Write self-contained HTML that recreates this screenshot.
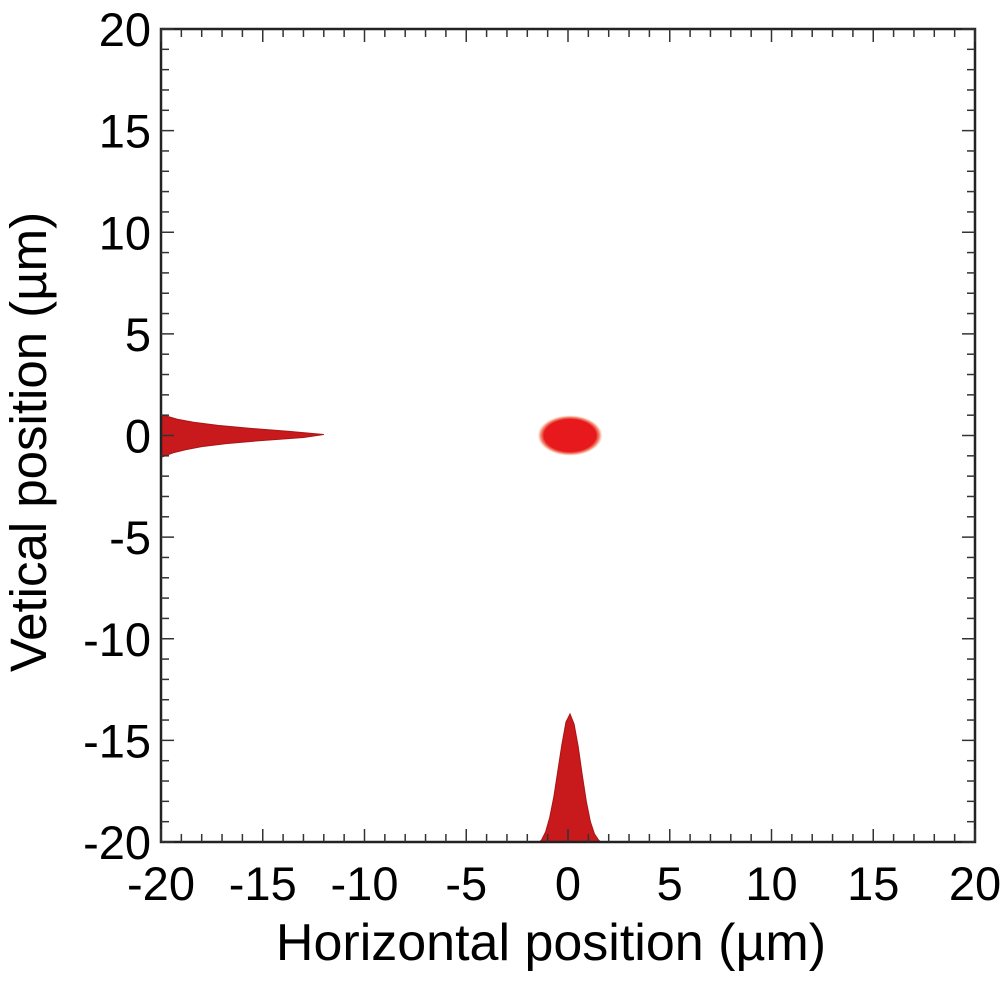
<!DOCTYPE html>
<html><head><meta charset="utf-8">
<style>
html,body{margin:0;padding:0;background:#fff;}
svg{display:block;font-family:"Liberation Sans",Arial,sans-serif;}
</style></head>
<body>
<svg id="chart" width="1000" height="982" viewBox="0 0 1000 982">
<defs>
<radialGradient id="spotGrad" cx="50%" cy="50%" r="50%">
<stop offset="0%" stop-color="#e8191c"/>
<stop offset="80%" stop-color="#e8191c"/>
<stop offset="90%" stop-color="#ec5a3a" stop-opacity="0.7"/>
<stop offset="100%" stop-color="#f0a070" stop-opacity="0"/>
</radialGradient>
</defs>
<g id="marks"></g>
<g id="axes"></g>
<text x="551" y="960" text-anchor="middle" font-size="52">Horizontal position (µm)</text>
<text transform="translate(46,442) rotate(-90)" text-anchor="middle" font-size="51">Vetical position (µm)</text>
</svg>
<script>
// data
const xTicks = [-20,-15,-10,-5,0,5,10,15,20];
const yTicks = [-20,-15,-10,-5,0,5,10,15,20];
const spotCenter = [0.1, 0.0];
const spotRadius = [1.6, 1.0];
// bottom histogram (horizontal profile): bin centers (µm) and height (µm above -20)
const hBins = [-1.3,-1.1,-0.9,-0.7,-0.5,-0.3,-0.1,0.1,0.3,0.5,0.7,0.9,1.1,1.3,1.5];
const hVals = [0.1,0.5,1.2,2.2,3.5,4.8,5.9,6.3,5.8,4.7,3.3,2.0,1.0,0.4,0.1];
// left histogram (vertical profile): bin centers (µm) and length (µm right of -20)
const vBins = [-1.0,-0.85,-0.7,-0.55,-0.4,-0.25,-0.1,0.05,0.2,0.35,0.5,0.65,0.8,0.95];
const vVals = [0.2,0.6,1.2,2.0,3.2,4.9,7.0,8.0,6.3,4.4,2.8,1.6,0.8,0.3];

const L=161,R=975,T=29,B=842;
const sx=v=>L+(v+20)/40*(R-L);
const sy=v=>B-(v+20)/40*(B-T);
const NS="http://www.w3.org/2000/svg";
const mk=(t,a,p)=>{const e=document.createElementNS(NS,t);for(const k in a)e.setAttribute(k,a[k]);p.appendChild(e);return e;};
const marks=document.getElementById('marks'), axes=document.getElementById('axes');

let d=`M${sx(hBins[0]-0.1)},${sy(-20)}`;
hBins.forEach((b,i)=>{d+=` L${sx(b)},${sy(-20+hVals[i])}`;});
d+=` L${sx(hBins[hBins.length-1]+0.1)},${sy(-20)} Z`;
const hh=mk('path',{d:d,fill:'#c8191c',stroke:'#a81616','stroke-width':1},marks);



let d2=`M${sx(-20)},${sy(vBins[0]-0.08)}`;
vBins.forEach((b,i)=>{d2+=` L${sx(-20+vVals[i])},${sy(b)}`;});
d2+=` L${sx(-20)},${sy(vBins[vBins.length-1]+0.08)} Z`;
const vh=mk('path',{d:d2,fill:'#c8191c',stroke:'#a81616','stroke-width':1},marks);



const sp=mk('ellipse',{cx:sx(spotCenter[0]),cy:sy(spotCenter[1]),rx:spotRadius[0]*(R-L)/40,ry:spotRadius[1]*(B-T)/40,fill:'url(#spotGrad)'},marks);



const fr=mk('rect',{x:L,y:T,width:R-L,height:B-T,fill:'none',stroke:'#222','stroke-width':2.5},axes);



for(let v=-20;v<=20;v++){
  const len=(v%5===0)?13:8;
  const x=sx(v), y=sy(v);
  mk('line',{x1:x,y1:B,x2:x,y2:B-len,stroke:'#333','stroke-width':1.5},axes);
  mk('line',{x1:x,y1:T,x2:x,y2:T+len,stroke:'#333','stroke-width':1.5},axes);
  mk('line',{x1:L,y1:y,x2:L+len,y2:y,stroke:'#333','stroke-width':1.5},axes);
  mk('line',{x1:R,y1:y,x2:R-len,y2:y,stroke:'#333','stroke-width':1.5},axes);
}
xTicks.forEach(v=>{
  const t=mk('text',{x:sx(v),y:B+58,'text-anchor':'middle','font-size':47},axes);
  t.textContent=v;
  
  
});
yTicks.forEach(v=>{
  const t=mk('text',{x:L-10,y:sy(v)+17,'text-anchor':'end','font-size':47},axes);
  t.textContent=v;
  
  
});
</script>
</body></html>
